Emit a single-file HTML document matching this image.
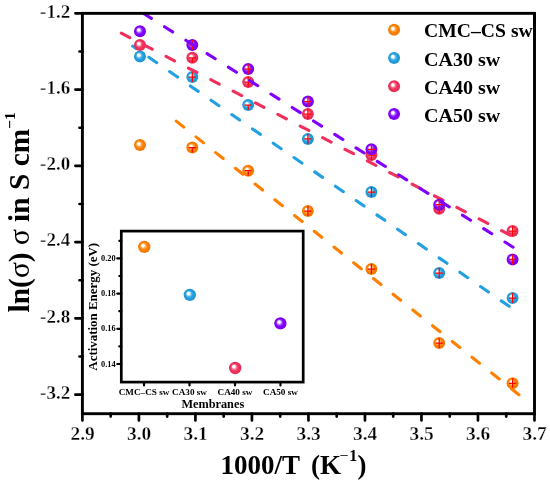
<!DOCTYPE html><html><head><meta charset="utf-8"><style>html,body{margin:0;padding:0;background:#fff}svg{display:block}.t{font-family:"Liberation Serif",serif}</style></head><body><svg width="550" height="481" viewBox="0 0 550 481"><defs><radialGradient id="go" cx="0.5" cy="0.5" r="0.5" fx="0.36" fy="0.36"><stop offset="0" stop-color="#FFFFFF"/><stop offset="0.2" stop-color="#FFFFFF"/><stop offset="0.42" stop-color="#FFA64C"/><stop offset="0.62" stop-color="#FF8000"/><stop offset="0.92" stop-color="#EF7800"/><stop offset="1" stop-color="#EF7800" stop-opacity="0.85"/></radialGradient><radialGradient id="gb" cx="0.5" cy="0.5" r="0.5" fx="0.36" fy="0.36"><stop offset="0" stop-color="#FFFFFF"/><stop offset="0.2" stop-color="#FFFFFF"/><stop offset="0.42" stop-color="#64BCE9"/><stop offset="0.62" stop-color="#22A0E0"/><stop offset="0.92" stop-color="#1F96D2"/><stop offset="1" stop-color="#1F96D2" stop-opacity="0.85"/></radialGradient><radialGradient id="gp" cx="0.5" cy="0.5" r="0.5" fx="0.36" fy="0.36"><stop offset="0" stop-color="#FFFFFF"/><stop offset="0.2" stop-color="#FFFFFF"/><stop offset="0.42" stop-color="#F56E8C"/><stop offset="0.62" stop-color="#F2305C"/><stop offset="0.92" stop-color="#E32D56"/><stop offset="1" stop-color="#E32D56" stop-opacity="0.85"/></radialGradient><radialGradient id="gv" cx="0.5" cy="0.5" r="0.5" fx="0.36" fy="0.36"><stop offset="0" stop-color="#FFFFFF"/><stop offset="0.2" stop-color="#FFFFFF"/><stop offset="0.42" stop-color="#A64CFF"/><stop offset="0.62" stop-color="#8000FF"/><stop offset="0.92" stop-color="#7800EF"/><stop offset="1" stop-color="#7800EF" stop-opacity="0.85"/></radialGradient><clipPath id="pa"><rect x="82.4" y="13.35" width="452.1" height="400.35"/></clipPath></defs><rect width="550" height="481" fill="#fff"/><g clip-path="url(#pa)"><circle cx="140.00" cy="145.10" r="6.0" fill="url(#go)"/><circle cx="192.30" cy="147.60" r="6.0" fill="url(#go)"/><path d="M188.70 147.60H195.90M192.30 147.60V152.60" stroke="#FF0000" stroke-width="1.25" fill="none"/><circle cx="248.20" cy="170.70" r="6.0" fill="url(#go)"/><path d="M244.60 170.70H251.80M248.20 170.70V175.70" stroke="#FF0000" stroke-width="1.25" fill="none"/><circle cx="307.90" cy="211.00" r="6.0" fill="url(#go)"/><path d="M304.30 211.00H311.50M307.90 206.00V216.00" stroke="#FF0000" stroke-width="1.25" fill="none"/><circle cx="371.40" cy="269.00" r="6.0" fill="url(#go)"/><path d="M367.80 269.00H375.00M371.40 264.00V274.00" stroke="#FF0000" stroke-width="1.25" fill="none"/><circle cx="439.20" cy="343.00" r="6.0" fill="url(#go)"/><path d="M435.60 343.00H442.80M439.20 338.00V348.00" stroke="#FF0000" stroke-width="1.25" fill="none"/><circle cx="512.60" cy="383.30" r="6.0" fill="url(#go)"/><path d="M509.00 383.30H516.20M512.60 378.30V388.30" stroke="#FF0000" stroke-width="1.25" fill="none"/><path d="M176.26 121.11L518.92 394.69" stroke="#FF8000" stroke-width="3.1" fill="none" stroke-linecap="round" stroke-dasharray="9.6 15.628" stroke-dashoffset="0.000"/><circle cx="140.00" cy="56.40" r="6.0" fill="url(#gb)"/><circle cx="192.30" cy="77.00" r="6.0" fill="url(#gb)"/><path d="M188.70 77.00H195.90M192.30 72.00V82.00" stroke="#FF0000" stroke-width="1.25" fill="none"/><circle cx="248.20" cy="105.10" r="6.0" fill="url(#gb)"/><path d="M244.60 105.10H251.80M248.20 105.10V110.10" stroke="#FF0000" stroke-width="1.25" fill="none"/><circle cx="307.90" cy="138.90" r="6.0" fill="url(#gb)"/><path d="M304.30 138.90H311.50M307.90 133.90V143.90" stroke="#FF0000" stroke-width="1.25" fill="none"/><circle cx="371.40" cy="192.00" r="6.0" fill="url(#gb)"/><path d="M367.80 192.00H375.00M371.40 187.00V197.00" stroke="#FF0000" stroke-width="1.25" fill="none"/><circle cx="439.20" cy="273.10" r="6.0" fill="url(#gb)"/><path d="M435.60 273.10H442.80M439.20 268.10V278.10" stroke="#FF0000" stroke-width="1.25" fill="none"/><circle cx="512.60" cy="298.10" r="6.0" fill="url(#gb)"/><path d="M509.00 298.10H516.20M512.60 293.10V303.10" stroke="#FF0000" stroke-width="1.25" fill="none"/><path d="M132.67 46.08L509.18 306.32" stroke="#22A0E0" stroke-width="3.1" fill="none" stroke-linecap="round" stroke-dasharray="9.6 15.601" stroke-dashoffset="5.525"/><circle cx="140.00" cy="45.00" r="6.0" fill="url(#gp)"/><circle cx="192.30" cy="57.80" r="6.0" fill="url(#gp)"/><path d="M188.70 57.80H195.90M192.30 57.80V62.80" stroke="#FF0000" stroke-width="1.25" fill="none"/><circle cx="248.20" cy="82.10" r="6.0" fill="url(#gp)"/><path d="M244.60 82.10H251.80M248.20 77.10V87.10" stroke="#FF0000" stroke-width="1.25" fill="none"/><circle cx="307.90" cy="114.00" r="6.0" fill="url(#gp)"/><path d="M304.30 114.00H311.50M307.90 109.00V119.00" stroke="#FF0000" stroke-width="1.25" fill="none"/><circle cx="371.40" cy="155.10" r="6.0" fill="url(#gp)"/><path d="M367.80 155.10H375.00M371.40 150.10V160.10" stroke="#FF0000" stroke-width="1.25" fill="none"/><circle cx="439.20" cy="208.70" r="6.0" fill="url(#gp)"/><path d="M435.60 208.70H442.80M439.20 203.70V213.70" stroke="#FF0000" stroke-width="1.25" fill="none"/><circle cx="512.60" cy="231.00" r="6.0" fill="url(#gp)"/><path d="M509.00 231.00H516.20M512.60 226.00V236.00" stroke="#FF0000" stroke-width="1.25" fill="none"/><path d="M121.28 33.16L510.09 235.03" stroke="#F2305C" stroke-width="3.1" fill="none" stroke-linecap="round" stroke-dasharray="9.6 15.605" stroke-dashoffset="0.000"/><circle cx="140.00" cy="31.30" r="6.0" fill="url(#gv)"/><circle cx="192.30" cy="45.00" r="6.0" fill="url(#gv)"/><path d="M188.70 45.00H195.90M192.30 40.00V50.00" stroke="#FF0000" stroke-width="1.25" fill="none"/><circle cx="248.20" cy="69.00" r="6.0" fill="url(#gv)"/><path d="M244.60 69.00H251.80M248.20 64.00V74.00" stroke="#FF0000" stroke-width="1.25" fill="none"/><circle cx="307.90" cy="101.50" r="6.0" fill="url(#gv)"/><path d="M304.30 101.50H311.50M307.90 96.50V106.50" stroke="#FF0000" stroke-width="1.25" fill="none"/><circle cx="371.40" cy="149.30" r="6.0" fill="url(#gv)"/><path d="M367.80 149.30H375.00M371.40 144.30V154.30" stroke="#FF0000" stroke-width="1.25" fill="none"/><circle cx="439.20" cy="204.70" r="6.0" fill="url(#gv)"/><path d="M435.60 204.70H442.80M439.20 199.70V209.70" stroke="#FF0000" stroke-width="1.25" fill="none"/><circle cx="512.60" cy="259.40" r="6.0" fill="url(#gv)"/><path d="M509.00 259.40H516.20M512.60 254.40V264.40" stroke="#FF0000" stroke-width="1.25" fill="none"/><path d="M143.24 13.29L513.10 247.19" stroke="#8000FF" stroke-width="3.1" fill="none" stroke-linecap="round" stroke-dasharray="9.6 15.577" stroke-dashoffset="0.000"/></g><g stroke="#000" fill="none"><rect x="82.4" y="13.35" width="452.1" height="400.35" stroke-width="2.9"/><path d="M75.4 13.35H82.4M75.4 89.61H82.4M75.4 165.86H82.4M75.4 242.12H82.4M75.4 318.37H82.4M75.4 394.63H82.4M79.5 51.48H82.4M79.5 127.73H82.4M79.5 203.99H82.4M79.5 280.25H82.4M79.5 356.50H82.4M82.40 413.7V420.5M138.91 413.7V420.5M195.42 413.7V420.5M251.93 413.7V420.5M308.44 413.7V420.5M364.95 413.7V420.5M421.46 413.7V420.5M477.97 413.7V420.5M534.48 413.7V420.5M110.66 413.7V416.6M167.17 413.7V416.6M223.68 413.7V416.6M280.19 413.7V416.6M336.70 413.7V416.6M393.21 413.7V416.6M449.72 413.7V416.6M506.23 413.7V416.6" stroke-width="2.7" stroke-linecap="round"/></g><text class="t" font-size="18.3" font-weight="bold" stroke="#fff" stroke-width="0.3" text-anchor="end" transform="translate(70.2,17.65) scale(1.04,1)">-1.2</text><text class="t" font-size="18.3" font-weight="bold" stroke="#fff" stroke-width="0.3" text-anchor="end" transform="translate(70.2,93.91) scale(1.04,1)">-1.6</text><text class="t" font-size="18.3" font-weight="bold" stroke="#fff" stroke-width="0.3" text-anchor="end" transform="translate(70.2,170.16) scale(1.04,1)">-2.0</text><text class="t" font-size="18.3" font-weight="bold" stroke="#fff" stroke-width="0.3" text-anchor="end" transform="translate(70.2,246.42) scale(1.04,1)">-2.4</text><text class="t" font-size="18.3" font-weight="bold" stroke="#fff" stroke-width="0.3" text-anchor="end" transform="translate(70.2,322.67) scale(1.04,1)">-2.8</text><text class="t" font-size="18.3" font-weight="bold" stroke="#fff" stroke-width="0.3" text-anchor="end" transform="translate(70.2,398.93) scale(1.04,1)">-3.2</text><text class="t" font-size="18.3" font-weight="bold" stroke="#fff" stroke-width="0.3" text-anchor="middle" transform="translate(82.60,439.6) scale(1.06,1)">2.9</text><text class="t" font-size="18.3" font-weight="bold" stroke="#fff" stroke-width="0.3" text-anchor="middle" transform="translate(139.11,439.6) scale(1.06,1)">3.0</text><text class="t" font-size="18.3" font-weight="bold" stroke="#fff" stroke-width="0.3" text-anchor="middle" transform="translate(195.62,439.6) scale(1.06,1)">3.1</text><text class="t" font-size="18.3" font-weight="bold" stroke="#fff" stroke-width="0.3" text-anchor="middle" transform="translate(252.13,439.6) scale(1.06,1)">3.2</text><text class="t" font-size="18.3" font-weight="bold" stroke="#fff" stroke-width="0.3" text-anchor="middle" transform="translate(308.64,439.6) scale(1.06,1)">3.3</text><text class="t" font-size="18.3" font-weight="bold" stroke="#fff" stroke-width="0.3" text-anchor="middle" transform="translate(365.15,439.6) scale(1.06,1)">3.4</text><text class="t" font-size="18.3" font-weight="bold" stroke="#fff" stroke-width="0.3" text-anchor="middle" transform="translate(421.66,439.6) scale(1.06,1)">3.5</text><text class="t" font-size="18.3" font-weight="bold" stroke="#fff" stroke-width="0.3" text-anchor="middle" transform="translate(478.17,439.6) scale(1.06,1)">3.6</text><text class="t" font-size="18.3" font-weight="bold" stroke="#fff" stroke-width="0.3" text-anchor="middle" transform="translate(534.68,439.6) scale(1.06,1)">3.7</text><text class="t" font-weight="bold" font-size="29.4" transform="translate(28.7,312.4) rotate(-90)">ln(<tspan font-weight="normal">σ</tspan>) <tspan font-weight="normal">σ</tspan> in S cm<tspan font-size="15.5" dy="-14.2">−1</tspan></text><text class="t" font-weight="bold" font-size="27" x="220.6" y="474">1000/T</text><text class="t" font-weight="bold" font-size="27" x="311.0" y="474">(K</text><text class="t" font-size="16" x="339.6" y="460.5">−</text><text class="t" font-weight="bold" font-size="16" x="349.2" y="460.6">1</text><text class="t" font-weight="bold" font-size="27" x="357.5" y="474">)</text><circle cx="394.10" cy="29.80" r="6.0" fill="url(#go)"/><text class="t" font-weight="bold" font-size="19" transform="translate(424.1,37.30) scale(1.035,1)">CMC–CS sw</text><circle cx="394.10" cy="58.00" r="6.0" fill="url(#gb)"/><text class="t" font-weight="bold" font-size="19" transform="translate(424.1,65.50) scale(1.055,1)">CA30 sw</text><circle cx="394.10" cy="86.20" r="6.0" fill="url(#gp)"/><text class="t" font-weight="bold" font-size="19" transform="translate(424.1,93.70) scale(1.055,1)">CA40 sw</text><circle cx="394.10" cy="114.10" r="6.0" fill="url(#gv)"/><text class="t" font-weight="bold" font-size="19" transform="translate(424.1,121.60) scale(1.055,1)">CA50 sw</text><path d="M534.5 13.35V40" stroke="#000" stroke-width="2.9"/><rect x="121.3" y="231.1" width="181.9" height="151" fill="#fff" stroke="#000" stroke-width="2.7"/><path d="M117.3 364.00H121.3M117.3 328.80H121.3M117.3 293.60H121.3M117.3 258.40H121.3M119.3 346.40H121.3M119.3 311.20H121.3M119.3 276.00H121.3M119.3 240.80H121.3M144.04 382.1V385.5M189.51 382.1V385.5M234.99 382.1V385.5M280.46 382.1V385.5" stroke="#000" stroke-width="2.2" stroke-linecap="round"/><text class="t" font-weight="bold" font-size="7.6" text-anchor="end" transform="translate(115.6,366.60) scale(1.1,1)">0.14</text><text class="t" font-weight="bold" font-size="7.6" text-anchor="end" transform="translate(115.6,331.40) scale(1.1,1)">0.16</text><text class="t" font-weight="bold" font-size="7.6" text-anchor="end" transform="translate(115.6,296.20) scale(1.1,1)">0.18</text><text class="t" font-weight="bold" font-size="7.6" text-anchor="end" transform="translate(115.6,261.00) scale(1.1,1)">0.20</text><text class="t" font-weight="bold" font-size="9" text-anchor="middle" transform="translate(144.04,394.7) scale(1.02,1)">CMC–CS sw</text><text class="t" font-weight="bold" font-size="9" text-anchor="middle" transform="translate(189.51,394.7) scale(1.02,1)">CA30 sw</text><text class="t" font-weight="bold" font-size="9" text-anchor="middle" transform="translate(234.99,394.7) scale(1.02,1)">CA40 sw</text><text class="t" font-weight="bold" font-size="9" text-anchor="middle" transform="translate(280.46,394.7) scale(1.02,1)">CA50 sw</text><text class="t" font-weight="bold" font-size="12.8" text-anchor="middle" transform="translate(212.8,408.1) scale(0.96,1)">Membranes</text><text class="t" font-weight="bold" font-size="12.3" text-anchor="middle" transform="translate(97.4,306.8) rotate(-90) scale(1.05,1)">Activation Energy (eV)</text><circle cx="144.30" cy="246.90" r="6.2" fill="url(#go)"/><circle cx="189.80" cy="294.90" r="6.2" fill="url(#gb)"/><circle cx="235.20" cy="368.00" r="6.2" fill="url(#gp)"/><circle cx="280.40" cy="323.40" r="6.2" fill="url(#gv)"/></svg></body></html>
